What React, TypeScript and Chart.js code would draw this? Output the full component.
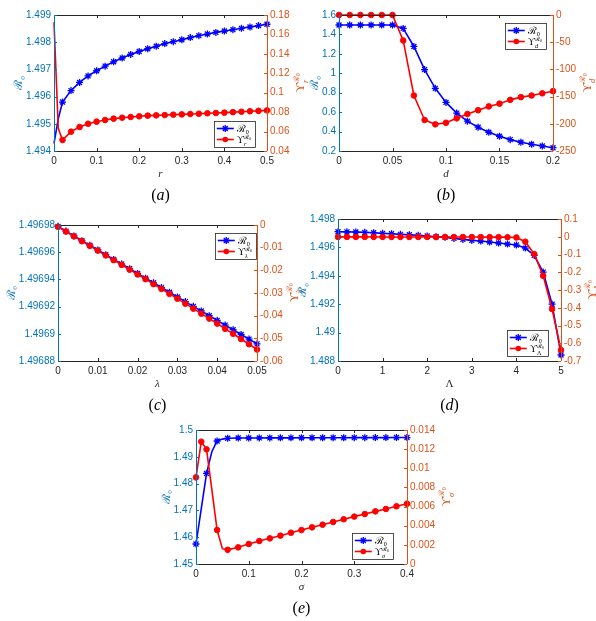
import { useEffect, useRef } from "react";
import { Chart, registerables } from "chart.js";
import type { Plugin } from "chart.js";

Chart.register(...registerables);

const BLUE = "#0000FF";
const RED = "#FF0000";
const AX_L = "#0072BD";
const AX_R = "#D95319";
const AX = "#262626";
const SANS = '"Liberation Sans", Arial, sans-serif';
const SERIF = '"Liberation Serif", "DejaVu Serif", serif';

// (a) r
const rX = [0, 0.01, 0.02, 0.04, 0.06, 0.08, 0.1, 0.12, 0.14, 0.16, 0.18, 0.2, 0.22, 0.24, 0.26, 0.28, 0.3, 0.32, 0.34, 0.36, 0.38, 0.4, 0.42, 0.44, 0.46, 0.48, 0.5];
const rR0 = [1.49428, 1.49518, 1.4958, 1.49622, 1.49652, 1.49676, 1.49695, 1.49712, 1.49728, 1.49742, 1.49755, 1.49766, 1.49776, 1.49785, 1.49795, 1.49802, 1.49809, 1.49817, 1.49824, 1.4983, 1.49836, 1.49841, 1.49846, 1.49851, 1.49856, 1.49861, 1.49866];
const rUps = [0.1725, 0.0634, 0.0513, 0.0599, 0.0647, 0.0681, 0.0702, 0.0719, 0.0733, 0.0743, 0.075, 0.0757, 0.0764, 0.0767, 0.077, 0.0774, 0.0777, 0.0781, 0.0784, 0.0788, 0.0791, 0.0795, 0.08, 0.0804, 0.0809, 0.0813, 0.0818];
const rTicksX = [0, 0.1, 0.2, 0.3, 0.4, 0.5];
const rTicksL = [1.494, 1.495, 1.496, 1.497, 1.498, 1.499];
const rTicksR = [0.04, 0.06, 0.08, 0.1, 0.12, 0.14, 0.16, 0.18];

// (b) d
const dX = [0, 0.01, 0.02, 0.03, 0.04, 0.05, 0.06, 0.07, 0.08, 0.09, 0.1, 0.11, 0.12, 0.13, 0.14, 0.15, 0.16, 0.17, 0.18, 0.19, 0.2];
const dR0 = [1.497, 1.497, 1.497, 1.497, 1.497, 1.497, 1.462, 1.276, 1.038, 0.845, 0.7, 0.59, 0.507, 0.445, 0.393, 0.352, 0.317, 0.29, 0.269, 0.252, 0.234];
const dUps = [0, 0, 0, 0, 0, 0, -46.8, -148, -193, -201, -198, -190, -182, -175, -168, -163, -156, -151, -148, -144, -140];
const dTicksX = [0, 0.05, 0.1, 0.15, 0.2];
const dTicksL = [0.2, 0.4, 0.6, 0.8, 1, 1.2, 1.4, 1.6];
const dTicksR = [-250, -200, -150, -100, -50, 0];

// (c) lambda
const lX = [0, 0.002, 0.004, 0.006, 0.008, 0.01, 0.012, 0.014, 0.016, 0.018, 0.02, 0.022, 0.024, 0.026, 0.028, 0.03, 0.032, 0.034, 0.036, 0.038, 0.04, 0.042, 0.044, 0.046, 0.048, 0.05];
const lR0 = [1.496979, 1.4969755, 1.496972, 1.4969685, 1.4969651, 1.4969616, 1.4969582, 1.4969547, 1.4969513, 1.4969478, 1.4969444, 1.4969409, 1.4969375, 1.496934, 1.4969306, 1.4969271, 1.4969237, 1.4969202, 1.4969168, 1.4969133, 1.4969099, 1.4969064, 1.496903, 1.4968995, 1.4968961, 1.4968926];
const lUps = [-0.0008, -0.0029, -0.005, -0.0071, -0.0092, -0.0113, -0.0134, -0.0155, -0.0176, -0.0197, -0.0218, -0.0239, -0.0261, -0.0282, -0.0304, -0.0325, -0.0347, -0.0369, -0.0391, -0.0413, -0.0435, -0.0458, -0.048, -0.0503, -0.0526, -0.0549];
const lTicksX = [0, 0.01, 0.02, 0.03, 0.04, 0.05];
const lTicksL = [1.49688, 1.4969, 1.49692, 1.49694, 1.49696, 1.49698];
const lTicksR = [-0.06, -0.05, -0.04, -0.03, -0.02, -0.01, 0];

// (d) Lambda
const LX = [0, 0.2, 0.4, 0.6, 0.8, 1, 1.2, 1.4, 1.6, 1.8, 2, 2.2, 2.4, 2.6, 2.8, 3, 3.2, 3.4, 3.6, 3.8, 4, 4.2, 4.4, 4.6, 4.8, 5];
const LR0 = [1.497106, 1.497094, 1.497082, 1.497059, 1.497035, 1.496988, 1.496965, 1.496918, 1.496894, 1.496847, 1.4968, 1.496753, 1.496706, 1.496635, 1.496565, 1.496494, 1.496447, 1.496376, 1.496306, 1.496235, 1.496165, 1.495953, 1.495435, 1.494259, 1.492, 1.488424];
const LUps = [-0.0008, -0.0008, -0.0009, -0.0009, -0.001, -0.001, -0.0011, -0.0011, -0.0012, -0.0012, -0.0013, -0.0013, -0.0014, -0.0015, -0.0016, -0.0017, -0.0018, -0.002, -0.0022, -0.0025, -0.004, -0.028, -0.098, -0.22, -0.407, -0.638];
const LTicksX = [0, 1, 2, 3, 4, 5];
const LTicksL = [1.488, 1.49, 1.492, 1.494, 1.496, 1.498];
const LTicksR = [-0.7, -0.6, -0.5, -0.4, -0.3, -0.2, -0.1, 0, 0.1];

// (e) sigma
const sX = [0, 0.01, 0.02, 0.03, 0.04, 0.05, 0.06, 0.08, 0.1, 0.12, 0.14, 0.16, 0.18, 0.2, 0.22, 0.24, 0.26, 0.28, 0.3, 0.32, 0.34, 0.36, 0.38, 0.4];
const sR0 = [1.45746, 1.4707, 1.4838, 1.4919, 1.4959, 1.4966, 1.4969, 1.497, 1.49702, 1.49704, 1.49706, 1.49707, 1.49708, 1.49709, 1.4971, 1.49711, 1.49712, 1.49713, 1.49714, 1.49715, 1.49716, 1.49717, 1.49718, 1.49719];
const sUps = [0.00905, 0.01278, 0.01198, 0.0078, 0.00355, 0.0016, 0.00148, 0.00174, 0.00209, 0.0024, 0.00268, 0.00296, 0.00327, 0.00355, 0.00383, 0.00411, 0.00439, 0.00467, 0.00495, 0.00522, 0.0055, 0.00575, 0.00603, 0.0063];
const sTicksX = [0, 0.1, 0.2, 0.3, 0.4];
const sTicksL = [1.45, 1.46, 1.47, 1.48, 1.49, 1.5];
const sTicksR = [0, 0.002, 0.004, 0.006, 0.008, 0.01, 0.012, 0.014];

type Run = { t: string; s: number; dy: number; it?: boolean; at?: number };

const r0Runs: Run[] = [
  { t: "ℛ", s: 1, dy: 0 },
  { t: "0", s: 0.62, dy: 0.22 },
];
const upsRuns = (sub: string, it: boolean): Run[] => [
  { t: "ϒ", s: 1, dy: 0 },
  { t: "ℛ", s: 0.58, dy: -0.42 },
  { t: "0", s: 0.4, dy: -0.3 },
  { t: sub, s: 0.62, dy: 0.3, it, at: 1 },
];

function runs(ctx: CanvasRenderingContext2D, list: Run[], size: number, x: number, y: number, draw: boolean) {
  const starts: number[] = [];
  let cur = x;
  let end = x;
  list.forEach((r, i) => {
    const start = r.at !== undefined ? starts[r.at] : cur;
    starts[i] = start;
    ctx.font = `${r.it ? "italic " : ""}${r.s * size}px ${SERIF}`;
    const w = ctx.measureText(r.t).width;
    if (draw) ctx.fillText(r.t, start, y + r.dy * size);
    cur = start + w;
    end = Math.max(end, cur);
  });
  return end - x;
}

function mathAt(ctx: CanvasRenderingContext2D, list: Run[], size: number, cx: number, cy: number, rot: boolean, color: string) {
  ctx.save();
  ctx.translate(cx, cy);
  if (rot) ctx.rotate(-Math.PI / 2);
  ctx.fillStyle = color;
  ctx.textAlign = "left";
  ctx.textBaseline = "alphabetic";
  const w = runs(ctx, list, size, 0, 0, false);
  runs(ctx, list, size, -w / 2, size * 0.35, true);
  ctx.restore();
}

const fmt = (v: number) => {
  const s = String(parseFloat(v.toFixed(6)));
  return s === "-0" ? "0" : s;
};

type PanelCfg = {
  key: string;
  area: [number, number, number, number];
  x: number[];
  r0: number[];
  ups: number[];
  xTicks: number[];
  lTicks: number[];
  rTicks: number[];
  xName: string;
  xItalic: boolean;
  sub: string;
  subItalic: boolean;
  markR0: (x: number, i: number) => boolean;
  markUps: (x: number, i: number) => boolean;
  legend: { corner: "ne" | "se"; dx: number; dy: number };
};

const every = (x: number, i: number) => true;
const even = (x: number) => Math.round(x * 1000) % 20 === 0;

const panels: PanelCfg[] = [
  {
    key: "a", area: [54, 15, 267, 151], x: rX, r0: rR0, ups: rUps,
    xTicks: rTicksX, lTicks: rTicksL, rTicks: rTicksR,
    xName: "r", xItalic: true, sub: "r", subItalic: true,
    markR0: (x, i) => i >= 2, markUps: (x, i) => i >= 2,
    legend: { corner: "se", dx: 12, dy: 4 },
  },
  {
    key: "b", area: [339, 15, 553, 151], x: dX, r0: dR0, ups: dUps,
    xTicks: dTicksX, lTicks: dTicksL, rTicks: dTicksR,
    xName: "d", xItalic: true, sub: "d", subItalic: true,
    markR0: every, markUps: every,
    legend: { corner: "ne", dx: 7, dy: 8 },
  },
  {
    key: "c", area: [58, 225, 257, 361], x: lX, r0: lR0, ups: lUps,
    xTicks: lTicksX, lTicks: lTicksL, rTicks: lTicksR,
    xName: "λ", xItalic: true, sub: "λ", subItalic: true,
    markR0: every, markUps: every,
    legend: { corner: "ne", dx: 1, dy: 8 },
  },
  {
    key: "d", area: [338, 219, 561, 361], x: LX, r0: LR0, ups: LUps,
    xTicks: LTicksX, lTicks: LTicksL, rTicks: LTicksR,
    xName: "Λ", xItalic: false, sub: "Λ", subItalic: false,
    markR0: every, markUps: every,
    legend: { corner: "se", dx: 13, dy: 5 },
  },
  {
    key: "e", area: [196, 430, 407, 564], x: sX, r0: sR0, ups: sUps,
    xTicks: sTicksX, lTicks: sTicksL, rTicks: sTicksR,
    xName: "σ", xItalic: true, sub: "σ", subItalic: true,
    markR0: (x) => even(x), markUps: (x) => even(x) || x === 0.01,
    legend: { corner: "se", dx: 14, dy: 5 },
  },
];

const TICK_FONT = { family: SANS, size: 10 };

function axis(ticks: number[], position: string, color: string, size: number) {
  return {
    type: "linear" as const,
    position,
    min: ticks[0],
    max: ticks[ticks.length - 1],
    afterBuildTicks: (s: any) => {
      s.ticks = ticks.map((value) => ({ value }));
    },
    afterFit: (s: any) => {
      if (position === "bottom") s.height = size;
      else s.width = size;
    },
    grid: { display: false, drawTicks: false },
    border: { display: false },
    ticks: {
      color,
      font: TICK_FONT,
      padding: position === "bottom" ? 4 : 3,
      autoSkip: false,
      maxRotation: 0,
      callback: (v: any) => fmt(Number(v)),
    },
  };
}

function panelPlugin(p: PanelCfg): Plugin<"line"> {
  return {
    id: "panel-" + p.key,
    afterDraw(chart) {
      const ctx = chart.ctx;
      const { left, right, top, bottom } = chart.chartArea;
      const xs = chart.scales.x;
      const yl = chart.scales.yL;
      const yr = chart.scales.yR;
      const px = (v: number) => Math.round(v) + 0.5;
      ctx.save();
      ctx.lineWidth = 1;
      // frame and inward ticks
      ctx.strokeStyle = AX;
      ctx.beginPath();
      ctx.moveTo(left, px(top));
      ctx.lineTo(right, px(top));
      ctx.moveTo(left, px(bottom));
      ctx.lineTo(right, px(bottom));
      p.xTicks.forEach((v) => {
        const x = px(xs.getPixelForValue(v));
        ctx.moveTo(x, bottom);
        ctx.lineTo(x, bottom - 3);
        ctx.moveTo(x, top);
        ctx.lineTo(x, top + 3);
      });
      ctx.stroke();
      ctx.strokeStyle = AX_L;
      ctx.beginPath();
      ctx.moveTo(px(left), top);
      ctx.lineTo(px(left), bottom);
      p.lTicks.forEach((v) => {
        const y = px(yl.getPixelForValue(v));
        ctx.moveTo(left, y);
        ctx.lineTo(left + 3, y);
      });
      ctx.stroke();
      ctx.strokeStyle = AX_R;
      ctx.beginPath();
      ctx.moveTo(px(right), top);
      ctx.lineTo(px(right), bottom);
      p.rTicks.forEach((v) => {
        const y = px(yr.getPixelForValue(v));
        ctx.moveTo(right, y);
        ctx.lineTo(right - 3, y);
      });
      ctx.stroke();

      // axis titles
      ctx.font = `10px ${SANS}`;
      const lw = Math.max(...p.lTicks.map((v) => ctx.measureText(fmt(v)).width));
      const rw = Math.max(...p.rTicks.map((v) => ctx.measureText(fmt(v)).width));
      const cy = (top + bottom) / 2;
      const cx = (left + right) / 2;
      mathAt(ctx, r0Runs, 11.5, left - 3 - lw - 8, cy, true, AX_L);
      mathAt(ctx, upsRuns(p.sub, p.subItalic), 13.5, right + 3 + rw + 10, cy, true, AX_R);
      mathAt(ctx, [{ t: p.xName, s: 1, dy: 0, it: p.xItalic }], 11, cx, bottom + 22, false, AX);
      mathAt(
        ctx,
        [
          { t: "(", s: 1, dy: 0 },
          { t: p.key, s: 1, dy: 0, it: true },
          { t: ")", s: 1, dy: 0 },
        ],
        16,
        cx,
        bottom + 43,
        false,
        "#000"
      );

      // legend
      const fs = 10;
      const ups = upsRuns(p.sub, p.subItalic);
      const tw = Math.max(runs(ctx, r0Runs, fs, 0, 0, false), runs(ctx, ups, fs, 0, 0, false));
      const bw = 23 + tw + 4;
      const bh = 26;
      const bx = right - p.legend.dx - bw;
      const by = p.legend.corner === "ne" ? top + p.legend.dy : bottom - p.legend.dy - bh;
      ctx.fillStyle = "#fff";
      ctx.fillRect(bx, by, bw, bh);
      ctx.strokeStyle = AX;
      ctx.lineWidth = 0.8;
      ctx.strokeRect(Math.round(bx) + 0.5, Math.round(by) + 0.5, Math.round(bw), Math.round(bh));
      const rows: [number, string, Run[], "star" | "circle"][] = [
        [by + 7.5, BLUE, r0Runs, "star"],
        [by + 18.5, RED, ups, "circle"],
      ];
      rows.forEach(([y, col, list, mk]) => {
        ctx.strokeStyle = col;
        ctx.fillStyle = col;
        ctx.lineWidth = 1.6;
        ctx.beginPath();
        ctx.moveTo(bx + 3, y);
        ctx.lineTo(bx + 20, y);
        ctx.stroke();
        const mx = bx + 11.5;
        if (mk === "circle") {
          ctx.beginPath();
          ctx.arc(mx, y, 2.8, 0, Math.PI * 2);
          ctx.fill();
        } else {
          ctx.lineWidth = 1.3;
          ctx.beginPath();
          ctx.moveTo(mx - 3.5, y);
          ctx.lineTo(mx + 3.5, y);
          ctx.moveTo(mx, y - 3.5);
          ctx.lineTo(mx, y + 3.5);
          ctx.moveTo(mx - 2.5, y - 2.5);
          ctx.lineTo(mx + 2.5, y + 2.5);
          ctx.moveTo(mx - 2.5, y + 2.5);
          ctx.lineTo(mx + 2.5, y - 2.5);
          ctx.stroke();
        }
        ctx.fillStyle = "#000";
        ctx.textAlign = "left";
        ctx.textBaseline = "alphabetic";
        runs(ctx, list, fs, bx + 23, y + fs * 0.35, true);
      });
      ctx.restore();
    },
  };
}

const PAD_L = 62;
const PAD_R = 52;
const PAD_T = 10;
const X_H = 32;
const SUB_H = 34;

function Panel({ p }: { p: PanelCfg }) {
  const ref = useRef<HTMLCanvasElement | null>(null);
  const [L, T, R, B] = p.area;
  const w = R - L + PAD_L + PAD_R;
  const h = B - T + PAD_T + X_H + SUB_H;

  useEffect(() => {
    if (!ref.current) return;
    const chart = new Chart(ref.current, {
      type: "line",
      data: {
        datasets: [
          {
            label: "ups",
            data: p.x.map((x, i) => ({ x, y: p.ups[i] })),
            yAxisID: "yR",
            borderColor: RED,
            backgroundColor: RED,
            borderWidth: 1.6,
            pointStyle: "circle",
            pointRadius: p.x.map((x, i) => (p.markUps(x, i) ? 2.8 : 0)),
            pointBorderWidth: 1,
            pointBorderColor: RED,
            pointBackgroundColor: RED,
            tension: 0,
            clip: false,
            order: 1,
          },
          {
            label: "r0",
            data: p.x.map((x, i) => ({ x, y: p.r0[i] })),
            yAxisID: "yL",
            borderColor: BLUE,
            backgroundColor: BLUE,
            borderWidth: 1.6,
            pointStyle: "star",
            pointRadius: p.x.map((x, i) => (p.markR0(x, i) ? 3.5 : 0)),
            pointBorderWidth: 1.3,
            pointBorderColor: BLUE,
            tension: 0,
            clip: false,
            order: 2,
          },
        ],
      },
      options: {
        responsive: false,
        animation: false,
        events: [],
        layout: { padding: { left: 0, right: 0, top: PAD_T, bottom: SUB_H } },
        plugins: { legend: { display: false }, tooltip: { enabled: false } },
        scales: {
          x: axis(p.xTicks, "bottom", AX, X_H) as any,
          yL: axis(p.lTicks, "left", AX_L, PAD_L) as any,
          yR: axis(p.rTicks, "right", AX_R, PAD_R) as any,
        },
      },
      plugins: [panelPlugin(p)],
    });
    return () => {
      chart.destroy();
    };
  }, [p]);

  return (
    <canvas
      ref={ref}
      width={w}
      height={h}
      style={{ position: "absolute", left: L - PAD_L, top: T - PAD_T, width: w, height: h }}
    />
  );
}

export default function App() {
  return (
    <div
      style={{
        position: "absolute",
        left: 0,
        top: 0,
        width: 596,
        height: 621,
        overflow: "hidden",
        background: "#fff",
      }}
    >
      {panels.map((p) => (
        <Panel key={p.key} p={p} />
      ))}
    </div>
  );
}
